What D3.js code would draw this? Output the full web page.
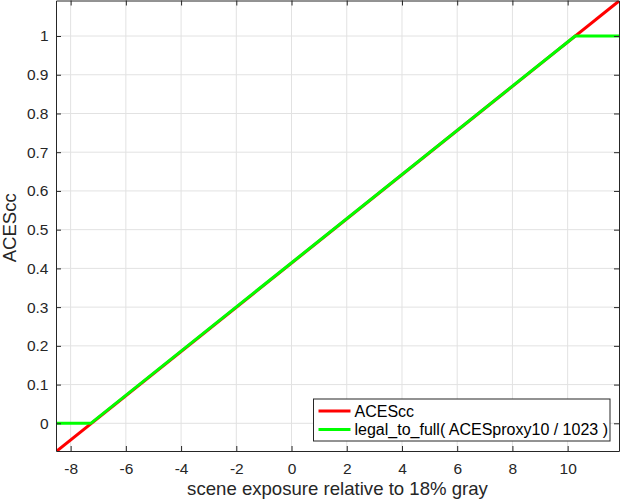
<!DOCTYPE html>
<html>
<head>
<meta charset="utf-8">
<script src="https://cdn.jsdelivr.net/npm/d3@7"></script>
<style>
  html, body { margin: 0; padding: 0; background: #fff; }
  svg { display: block; font-family: "Liberation Sans", Arial, sans-serif; }
</style>
</head>
<body>
<svg id="chart" width="620" height="500"></svg>
<script>
// Data
const xTicks = [-8, -6, -4, -2, 0, 2, 4, 6, 8, 10];
const yTicks = [0, 0.1, 0.2, 0.3, 0.4, 0.5, 0.6, 0.7, 0.8, 0.9, 1];
const acesccX = [-8.53, 11.86];
const acesccY = [-0.0733, 1.0905];
const proxyX = [-8.53, -7.27, 10.27, 11.86];
const proxyY = [0, 0, 1, 1];
const seriesNames = ["ACEScc", "legal_to_full( ACESproxy10 / 1023 )"];
const seriesColors = ["#ff0000", "#00ff00"];

const W = 620, H = 500;
const m = { left: 56, right: 1, top: 0.5, bottom: 49 };
const svg = d3.select("#chart");

const x = d3.scaleLinear().domain([-8.53, 11.86]).range([m.left, W - m.right]);
const y = d3.scaleLinear().domain([-0.0715, 1.0917]).range([H - m.bottom, m.top]);

const axisColor = "#262626";
const gridColor = "#e2e2e2";
const x0 = m.left, x1 = W - m.right, y0 = H - m.bottom, y1 = m.top;

// grid
const grid = svg.append("g");
grid.selectAll("line.gx").data(xTicks).enter().append("line")
  .attr("x1", d => x(d)).attr("x2", d => x(d))
  .attr("y1", y1).attr("y2", y0)
  .attr("stroke", gridColor).attr("stroke-width", 1);
grid.selectAll("line.gy").data(yTicks).enter().append("line")
  .attr("x1", x0).attr("x2", x1)
  .attr("y1", d => y(d)).attr("y2", d => y(d))
  .attr("stroke", gridColor).attr("stroke-width", 1);

// clip
svg.append("clipPath").attr("id", "clip").append("rect")
  .attr("x", x0).attr("y", y1).attr("width", x1 - x0).attr("height", y0 - y1);

const line = d3.line().x(d => x(d[0])).y(d => y(d[1]));
const plot = svg.append("g").attr("clip-path", "url(#clip)");
plot.append("path")
  .datum(acesccX.map((v, i) => [v, acesccY[i]]))
  .attr("d", line).attr("fill", "none")
  .attr("stroke", seriesColors[0]).attr("stroke-width", 3);
plot.append("path")
  .datum(proxyX.map((v, i) => [v, proxyY[i]]))
  .attr("d", line).attr("fill", "none")
  .attr("stroke", seriesColors[1]).attr("stroke-width", 3);

// axes with inward ticks (MATLAB style)
const tickLen = 5;
const fmtX = d => String(d);
const fmtY = d => String(+d.toFixed(1));
const xAxisB = d3.axisBottom(x).tickValues(xTicks).tickSizeInner(-tickLen).tickSizeOuter(0).tickFormat(fmtX);
const xAxisT = d3.axisTop(x).tickValues(xTicks).tickSizeInner(-tickLen).tickSizeOuter(0).tickFormat("");
const yAxisL = d3.axisLeft(y).tickValues(yTicks).tickSizeInner(-tickLen).tickSizeOuter(0).tickFormat(fmtY);
const yAxisR = d3.axisRight(y).tickValues(yTicks).tickSizeInner(-tickLen).tickSizeOuter(0).tickFormat("");

function style(g) {
  g.selectAll("path.domain").attr("stroke", axisColor).attr("stroke-width", 1);
  g.selectAll(".tick line").attr("stroke", axisColor).attr("stroke-width", 1);
  g.selectAll(".tick text").attr("fill", axisColor).attr("font-size", "15.5px")
    .attr("font-family", "'Liberation Sans', Arial, sans-serif");
}
svg.append("g").attr("transform", `translate(0,${y0})`).call(xAxisB).call(style)
  .selectAll(".tick text").attr("dy", null).attr("y", 22.5);
svg.append("g").attr("transform", `translate(0,${y1})`).call(xAxisT).call(style);
svg.append("g").attr("transform", `translate(${x0},0)`).call(yAxisL).call(style)
  .selectAll(".tick text").attr("x", -7.5);
svg.append("g").attr("transform", `translate(${x1},0)`).call(yAxisR).call(style);

// axis labels
svg.append("text")
  .attr("x", (x0 + x1) / 2).attr("y", 494.5)
  .attr("text-anchor", "middle").attr("font-size", "18.6px").attr("fill", axisColor)
  .text("scene exposure relative to 18% gray");
svg.append("text")
  .attr("transform", `translate(15.5,${(y0 + y1) / 2 + 2}) rotate(-90)`)
  .attr("text-anchor", "middle").attr("font-size", "18.6px").attr("fill", axisColor)
  .text("ACEScc");

// legend
const lg = svg.append("g");
const lx = 313.5, ly = 399, lw = 296.5, lh = 42;
lg.append("rect").attr("x", lx).attr("y", ly).attr("width", lw).attr("height", lh)
  .attr("fill", "#fff").attr("stroke", axisColor).attr("stroke-width", 1);
seriesNames.forEach((name, i) => {
  const cy = ly + 12 + i * 18.5;
  lg.append("line").attr("x1", lx + 5).attr("x2", lx + 37).attr("y1", cy).attr("y2", cy)
    .attr("stroke", seriesColors[i]).attr("stroke-width", 3);
  lg.append("text").attr("x", lx + 41).attr("y", cy).attr("dy", "0.35em")
    .attr("font-size", "16px").attr("fill", "#000").text(name);
});
</script>
</body>
</html>
